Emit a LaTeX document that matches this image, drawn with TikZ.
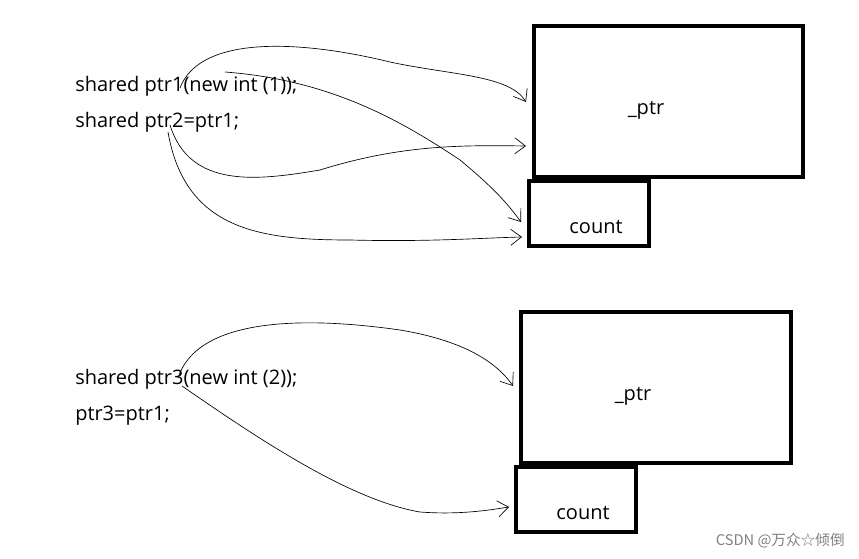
\documentclass[tikz,border=0pt]{standalone}
\usepackage{fontspec}
\setmainfont{Open Sans}
\newfontfamily\cjk{Noto Sans CJK SC}
\usetikzlibrary{arrows.meta}
\begin{document}
\begin{tikzpicture}[x=0.75pt,y=-0.75pt,
  box/.style={draw,line width=2.4pt},
  txt/.style={anchor=west,inner sep=0,font=\fontsize{15}{18}\selectfont},
  lab/.style={inner sep=0,font=\fontsize{15}{18}\selectfont},
  conn/.style={line width=0.5pt,-{Straight Barb[length=8pt,width=12pt]}}]
\useasboundingbox (0,0) rectangle (859,559);
\draw[box] (534,26) rectangle (803,177);
\draw[box] (529,181) rectangle (649,246);
\draw[box] (521,312) rectangle (791,463);
\draw[box] (516,467) rectangle (636,532);
\node[lab] (p1) at (646,110) {\_ptr};
\node[lab] (c1) at (596,227) {count};
\node[lab] (p2) at (633,396) {\_ptr};
\node[lab] (c2) at (583,513) {count};
\node[txt] (t1) at (75,86) {shared ptr1(new int (1));};
\node[txt] (t2) at (75,122) {shared ptr2=ptr1;};
\node[txt] (t3) at (75,379) {shared ptr3(new int (2));};
\node[txt] (t4) at (75,416) {ptr3=ptr1;};
\node[anchor=east,inner sep=0,text=gray,font=\cjk\fontsize{11}{13}\selectfont] (w) at (845,541) {CSDN @万众☆倾倒};
\coordinate (a1) at (180,88);
\coordinate (a2) at (225,72);
\coordinate (b1) at (170,125);
\coordinate (b2) at (168,132);
\coordinate (e1) at (526,102);
\coordinate (e2) at (521,222);
\coordinate (e3) at (526,146);
\coordinate (e4) at (522,237);
\coordinate (d1) at (178,378);
\coordinate (d2) at (182,386);
\coordinate (f1) at (513,386);
\coordinate (f2) at (509,507);
\draw[conn] (a1) .. controls (200,35) and (300,40) .. (390,62) .. controls (450,75) and (510,75) .. (e1);
\draw[conn] (a2) .. controls (330,80) and (400,120) .. (460,160) .. controls (490,185) and (505,200) .. (e2);
\draw[conn] (b1) .. controls (190,190) and (260,180) .. (320,170) .. controls (400,145) and (460,145) .. (e3);
\draw[conn] (b2) .. controls (185,230) and (260,240) .. (350,240) .. controls (430,242) and (480,238) .. (e4);
\draw[conn] (d1) .. controls (200,310) and (330,320) .. (400,330) .. controls (460,340) and (495,360) .. (f1);
\draw[conn] (d2) .. controls (260,440) and (350,500) .. (420,512) .. controls (460,515) and (490,510) .. (f2);
\end{tikzpicture}
\end{document}
